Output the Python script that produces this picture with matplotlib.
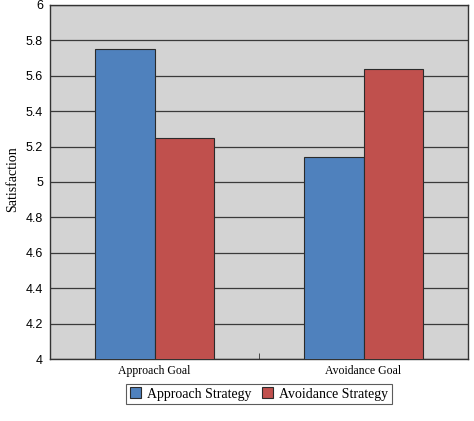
import numpy as np
import matplotlib.pyplot as plt

# Data
goals = ['Approach Goal', 'Avoidance Goal']
approach_strategy = [5.75, 5.14]
avoidance_strategy = [5.25, 5.64]
yticks = [4, 4.2, 4.4, 4.6, 4.8, 5, 5.2, 5.4, 5.6, 5.8, 6]
ytick_labels = ['4', '4.2', '4.4', '4.6', '4.8', '5', '5.2', '5.4', '5.6', '5.8', '6']

fig = plt.figure(figsize=(4.74, 4.21), dpi=100)
ax = fig.add_axes([50 / 474, 1 - 359 / 421, 418 / 474, 354 / 421])

x = np.arange(len(goals))
w = 0.287
ax.bar(x - w / 2, approach_strategy, w, color='#4F81BD', edgecolor='#2b2b2b',
       linewidth=0.8, label='Approach Strategy', zorder=3)
ax.bar(x + w / 2, avoidance_strategy, w, color='#C0504D', edgecolor='#2b2b2b',
       linewidth=0.8, label='Avoidance Strategy', zorder=3)

ax.set_facecolor('#D3D3D3')
ax.set_xlim(-0.5, 1.5)
ax.set_ylim(4, 6)
ax.set_yticks(yticks)
ax.set_yticklabels(ytick_labels, fontfamily='Liberation Sans', fontsize=9)
ax.yaxis.grid(True, color='#3a3a3a', linewidth=0.9, zorder=1)
ax.tick_params(axis='y', length=0, pad=5)

ax.set_xticks(x)
ax.set_xticklabels(goals, fontfamily='Liberation Serif', fontsize=8.5)
ax.tick_params(axis='x', length=0, pad=4)
ax.set_xticks([0.5], minor=True)
ax.tick_params(axis='x', which='minor', direction='in', length=4, color='#333333')

for s in ax.spines.values():
    s.set_color('#333333')
    s.set_linewidth(1.0)

ax.set_ylabel('Satisfaction', fontfamily='Liberation Serif', fontsize=10)
ax.yaxis.set_label_coords(-31 / 418, 0.5 + 3 / 354)

leg = ax.legend(loc='upper center', bbox_to_anchor=(0.5, -0.065), ncol=2,
                prop={'family': 'Liberation Serif', 'size': 10}, frameon=True,
                fancybox=False, edgecolor='#333333', handlelength=0.8,
                handleheight=0.8, handletextpad=0.4, columnspacing=0.8,
                borderpad=0.25)
leg.set_bbox_to_anchor((0.5, -0.065 + 5 / 354), transform=ax.transAxes)
leg.get_frame().set_linewidth(0.8)

fig.savefig('out.png', dpi=100)
